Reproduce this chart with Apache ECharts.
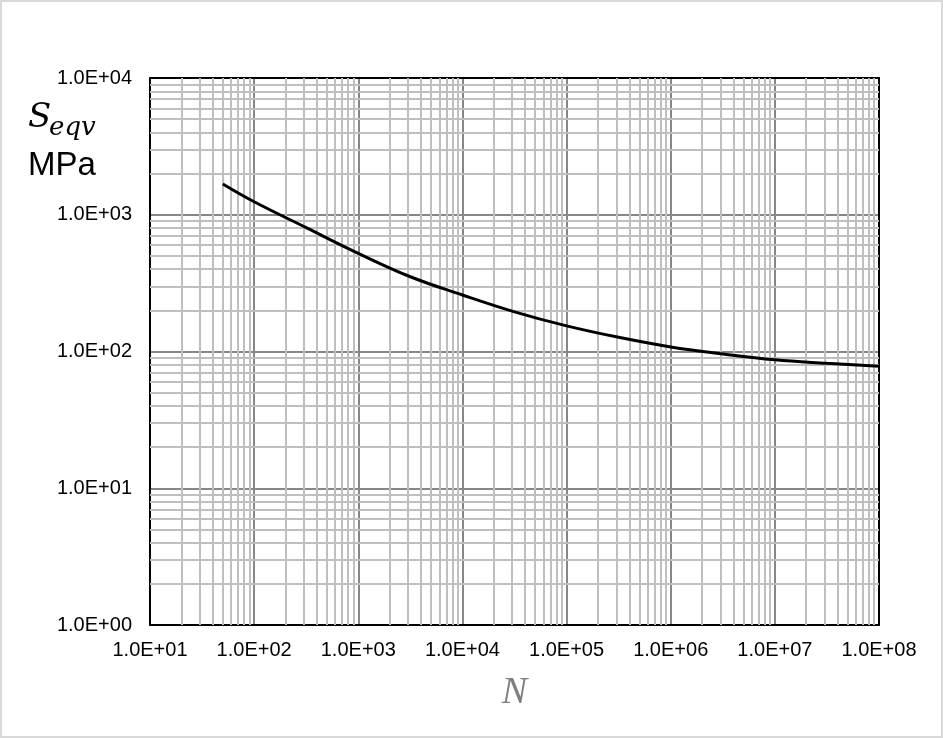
<!DOCTYPE html>
<html>
<head>
<meta charset="utf-8">
<script src="https://cdn.jsdelivr.net/npm/echarts@6/dist/echarts.min.js"></script>
<style>
html,body{margin:0;padding:0;background:#fff;}
#chart{width:943px;height:738px;}
</style>
</head>
<body>
<div id="chart"></div>
<script>
// Data (N cycles, equivalent stress in MPa)
const cycles = [50, 100, 316, 1000, 3162, 10000, 31623, 100000, 316228, 1000000, 3162278, 10000000, 31622777, 100000000];
const stress = [1680, 1245, 805, 522, 352, 259, 195, 154, 127, 108, 96, 87, 82, 78];
// Decade starts used for the logarithmic grid
const xDecades = [1e1, 1e2, 1e3, 1e4, 1e5, 1e6, 1e7];
const yDecades = [1e0, 1e1, 1e2, 1e3];
const minorMultipliers = [2, 3, 4, 5, 6, 7, 8, 9];

function fmt(v) {
  const e = Math.round(Math.log10(v));
  const m = v / Math.pow(10, e);
  const s = e < 0 ? '-' : '+';
  return m.toFixed(1) + 'E' + s + String(Math.abs(e)).padStart(2, '0');
}

const minorX = [];
xDecades.forEach(d => minorMultipliers.forEach(m => minorX.push({ xAxis: d * m })));
const minorY = [];
yDecades.forEach(d => minorMultipliers.forEach(m => minorY.push({ yAxis: d * m })));

const chart = echarts.init(document.getElementById('chart'), null, { renderer: 'canvas' });
const labelFont = { fontFamily: 'Liberation Sans, Arial, sans-serif', fontSize: 20, color: '#000' };

chart.setOption({
  animation: false,
  backgroundColor: '#fff',
  grid: { left: 150, right: 64, top: 78, bottom: 113, containLabel: false },
  xAxis: [{
    type: 'log', logBase: 10, min: 10, max: 1e8, interval: 1, splitNumber: 7, z: 2,
    axisLine: { show: true, onZero: false, lineStyle: { color: '#000', width: 2 } },
    axisTick: { show: false },
    axisLabel: Object.assign({ formatter: fmt, margin: 15 }, labelFont),
    splitLine: { show: true, lineStyle: { color: '#878787', width: 2 } },
    minorTick: { show: false }, minorSplitLine: { show: false },
    name: 'N', nameLocation: 'middle', nameGap: 49,
    nameTextStyle: { fontFamily: 'Liberation Serif, serif', fontStyle: 'italic', fontSize: 38, color: '#7f7f7f' }
  }, {
    type: 'log', logBase: 10, min: 10, max: 1e8, position: 'top', z: 2,
    axisLine: { show: true, onZero: false, lineStyle: { color: '#000', width: 2 } },
    axisTick: { show: false }, axisLabel: { show: false }, splitLine: { show: false }
  }],
  yAxis: [{
    type: 'log', logBase: 10, min: 1, max: 1e4, interval: 1, splitNumber: 4, z: 2,
    axisLine: { show: true, onZero: false, lineStyle: { color: '#000', width: 2 } },
    axisTick: { show: false },
    axisLabel: Object.assign({ formatter: fmt, margin: 18 }, labelFont),
    splitLine: { show: true, lineStyle: { color: '#878787', width: 2 } }
  }, {
    type: 'log', logBase: 10, min: 1, max: 1e4, position: 'right', z: 2,
    axisLine: { show: true, onZero: false, lineStyle: { color: '#000', width: 2 } },
    axisTick: { show: false }, axisLabel: { show: false }, splitLine: { show: false }
  }],
  series: [{
    type: 'line', data: [], z: 1, silent: true,
    markLine: {
      silent: true, symbol: ['none', 'none'], label: { show: false },
      lineStyle: { color: '#bfbfbf', width: 2, type: 'solid' },
      emphasis: { disabled: true },
      data: minorX.concat(minorY)
    }
  }, {
    type: 'line', z: 5,
    data: cycles.map((c, i) => [c, stress[i]]),
    smooth: 0.4, showSymbol: false,
    lineStyle: { color: '#000', width: 3 }
  }],
  graphic: [
    { type: 'rect', shape: { x: 1, y: 1, width: 941, height: 736 }, style: { fill: 'none', stroke: '#d9d9d9', lineWidth: 2 }, silent: true },
    { type: 'text', left: 28, top: 101, style: { text: 'S', font: 'italic 34px "DejaVu Serif", serif', fill: '#000' } },
    { type: 'text', left: 49, top: 115, style: { text: 'eqv', font: 'italic 26px "DejaVu Serif", serif', fill: '#000' } },
    { type: 'text', left: 28, top: 149, style: { text: 'MPa', font: '33px "Liberation Sans", Arial, sans-serif', fill: '#000' } }
  ]
});
</script>
</body>
</html>
